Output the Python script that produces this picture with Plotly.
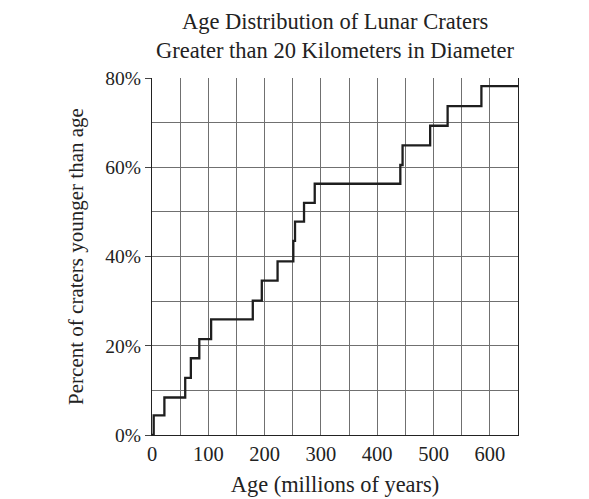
import plotly.graph_objects as go

# step points (age in millions of years, percent younger)
ages = [0, 3, 22, 59, 69, 84, 105, 179, 195, 223, 251, 254, 270, 289,
        441, 445, 494, 525, 585, 650]
percents = [0, 4.4, 8.4, 12.8, 17.2, 21.5, 25.9, 30.1, 34.6, 38.9, 43.5, 47.8,
            52.0, 56.3, 60.5, 64.9, 69.3, 73.7, 78.2, 78.2]

x_ticks = [0, 100, 200, 300, 400, 500, 600]
y_ticks = [0, 20, 40, 60, 80]
y_ticktext = ['0%', '20%', '40%', '60%', '80%']

title_lines = ['Age Distribution of Lunar Craters',
               'Greater than 20 Kilometers in Diameter']

SERIF = 'Liberation Serif'
GRID = '#707070'

fig = go.Figure(
    go.Scatter(
        x=ages,
        y=percents,
        mode='lines',
        line=dict(shape='hv', color='#1e1e1e', width=2.3),
        hoverinfo='skip',
    )
)

# two title lines as annotations so the line spacing can match
for i, line in enumerate(title_lines):
    fig.add_annotation(
        text=line,
        xref='paper', yref='paper',
        x=0.5, y=1.158 - i * 0.081,
        xanchor='center', yanchor='middle',
        showarrow=False,
        font=dict(family=SERIF, size=22.5, color='#222'),
    )

# page body has an 8px margin, so the figure is trimmed by that amount
fig.update_layout(
    width=581,
    height=491,
    autosize=False,
    paper_bgcolor='white',
    plot_bgcolor='white',
    showlegend=False,
    margin=dict(l=144, r=71, t=70, b=64),
    font=dict(family=SERIF, color='#222', size=19),
    xaxis=dict(
        range=[0, 650],
        tickvals=x_ticks,
        showgrid=True,
        gridcolor=GRID,
        gridwidth=1,
        minor=dict(dtick=50, tick0=0, showgrid=True, gridcolor=GRID, gridwidth=1),
        zeroline=False,
        showline=True,
        linecolor='#222',
        linewidth=1.2,
        ticks='',
        automargin=False,
        tickfont=dict(size=20.5),
        title=dict(text='Age (millions of years)', standoff=12, font=dict(size=22.4)),
    ),
    yaxis=dict(
        range=[0, 80],
        tickvals=y_ticks,
        ticktext=y_ticktext,
        showgrid=True,
        gridcolor=GRID,
        gridwidth=1,
        minor=dict(dtick=10, tick0=0, showgrid=True, gridcolor=GRID, gridwidth=1),
        zeroline=False,
        showline=True,
        mirror=True,
        linecolor='#222',
        linewidth=1.2,
        ticks='outside',
        ticklen=6,
        tickcolor='#444',
        automargin=False,
        tickfont=dict(size=19.5),
        title=dict(text='Percent of craters younger than age', standoff=15, font=dict(size=21)),
    ),
)

fig.write_html("out.html")
